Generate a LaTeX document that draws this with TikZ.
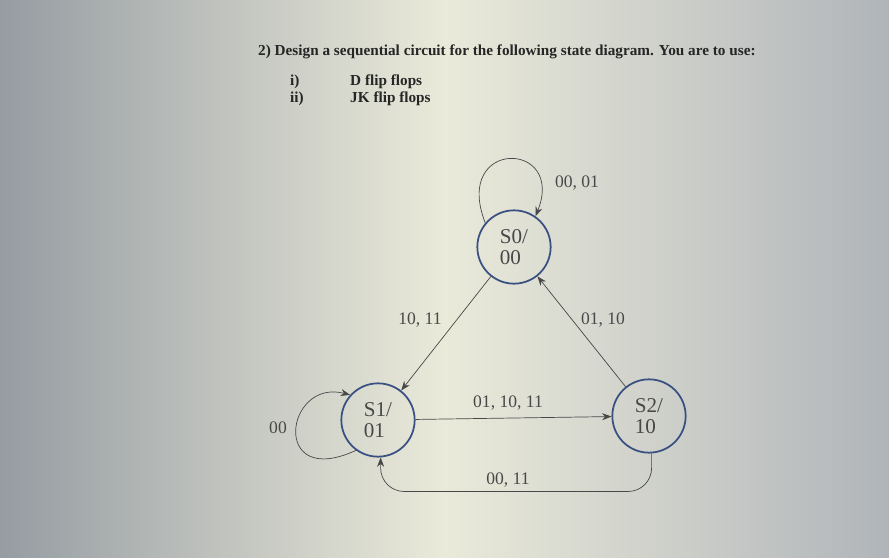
\documentclass[tikz,border=0pt]{standalone}
\usepackage{fontspec}
\setmainfont{Liberation Serif}
\usepackage{xcolor}
\usetikzlibrary{arrows,arrows.meta,shapes}

\definecolor{statecol}{RGB}{58,80,130}
\definecolor{inkcol}{RGB}{72,72,72}
\definecolor{papercol}{RGB}{234,234,218}
\definecolor{sidecol}{RGB}{150,156,162}

\tikzset{
  state/.style={circle, draw=statecol, line width=1.5pt, minimum size=2.2cm,
    inner sep=0pt, align=left, text=inkcol, font=\fontsize{18}{18}\selectfont},
  edge/.style={draw=inkcol, line width=0.6pt, -{Stealth[length=8pt,width=6pt]}},
  elabel/.style={text=inkcol, font=\fontsize{15}{16}\selectfont, inner sep=1pt},
  task/.style={anchor=west, text=black!85, font=\bfseries\fontsize{13}{14}\selectfont, inner sep=0pt}
}

\begin{document}
\begin{tikzpicture}[x=0.03cm, y=-0.03cm]
        \useasboundingbox (0,0) rectangle (889,558);
        % background of the photo
        \shade[left color=sidecol, right color=sidecol!75, middle color=papercol] (0,0) rectangle (889,558);

        % task text
        \node[task] (title) at (258,52) {2) Design a sequential circuit for the following state diagram. You are to use:};
        \node[task] (ia) at (290,82) {i)};
        \node[task] (ib) at (350,82) {D flip flops};
        \node[task] (iia) at (290,99) {ii)};
        \node[task] (iib) at (350,99) {JK flip flops};

        % states
        \node[state] (S0) at (514,247) {S0/\\00};
        \node[state] (S1) at (378,420) {S1/\\01};
        \node[state] (S2) at (649,416) {S2/\\10};

        % transitions
        \draw[edge] (S0.140) .. controls (452,138) and (566,140) .. (S0.55);
        \draw[edge] (S0) -- (S1);
        \draw[edge] (S2) -- (S0);
        \draw[edge] (S1) -- (S2);
        \draw[edge] (S1.234) .. controls (270,490) and (285,378) .. (S1.138);
        \draw[edge, rounded corners=20pt] (S2.274) -- ++(0,38) -| (S1.274);

        % labels
        \node[elabel] (l00) at (577,183) {00, 01};
        \node[elabel] (l01) at (420,320) {10, 11};
        \node[elabel] (l20) at (603,320) {01, 10};
        \node[elabel] (l12) at (508,403) {01, 10, 11};
        \node[elabel] (l11) at (278,428) {00};
        \node[elabel] (l21) at (508,480) {00, 11};
    \end{tikzpicture}
\end{document}
